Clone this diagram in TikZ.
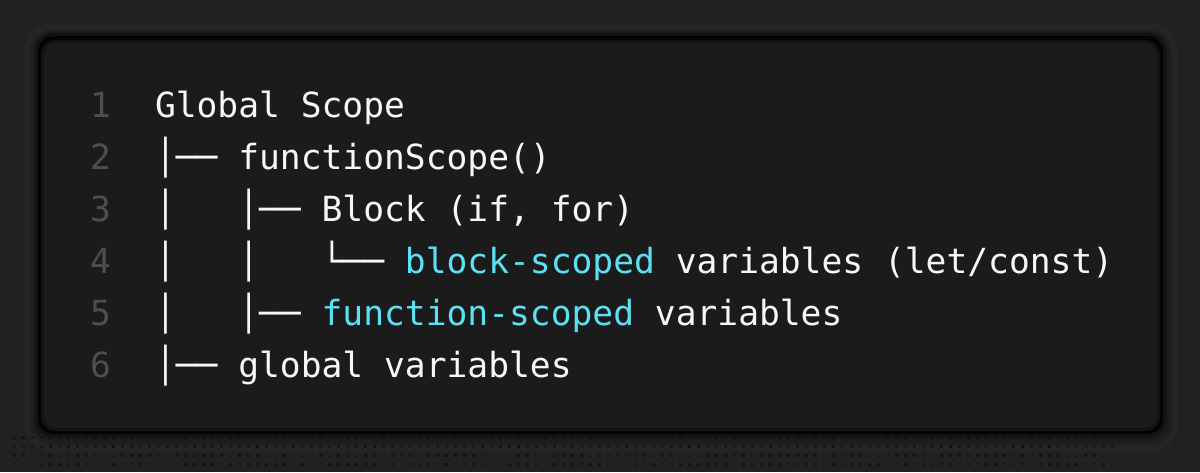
\documentclass[tikz,border=0pt]{standalone}
\usepackage{fontspec}
\newfontfamily\codefont{DejaVu Sans Mono}
\definecolor{bgc}{HTML}{212121}
\definecolor{haloc}{HTML}{252525}
\definecolor{borderc}{HTML}{121212}
\definecolor{panelc}{HTML}{1B1B1B}
\definecolor{txtc}{HTML}{F7F7F7}
\definecolor{numc}{HTML}{4E4E4E}
\definecolor{cyanc}{HTML}{5CE1F3}
\tikzset{
  code/.style={anchor=base west, inner sep=0pt, outer sep=0pt, text=txtc,
    font=\codefont\fontsize{34.6}{52}\selectfont},
  linenum/.style={code, text=numc},
}
\newcommand{\hl}[1]{\textcolor{cyanc}{#1}}
\begin{document}
\begin{tikzpicture}[x=1pt,y=-1pt]
\useasboundingbox (0,0) rectangle (1200,472);
\fill[bgc] (0,0) rectangle (1200,472);
% halo
\fill[haloc, rounded corners=28] (24,23) rectangle (1178,452);
% dotted texture below panel
\pgfmathsetseed{7}
\foreach \r in {0,1,2,3}{
  \foreach \c in {0,...,122}{
    \pgfmathsetmacro{\sh}{12+int(random(0,35))}
    \fill[black!\sh!bgc] (13+\c*9,436+\r*9) rectangle ++(3,3);
  }
}
% soft shadow
\fill[black, opacity=0.15, rounded corners=22] (30,30) rectangle (1172,445);
\fill[black, opacity=0.15, rounded corners=20] (33,32) rectangle (1169,441);
% border and panel
\fill[borderc, rounded corners=18] (35,33) rectangle (1166,437);
\fill[black!85!borderc, rounded corners=16] (38,36) rectangle (1163,434);
\fill[borderc, rounded corners=14] (41,40) rectangle (1160,431);
\fill[panelc, rounded corners=12] (44,43) rectangle (1157,428);
% line numbers
\foreach \i in {1,...,6}{
  \node[linenum] (n\i) at (90,{117+(\i-1)*52}) {\i};
}
% code lines
\node[code] (l1) at (155,117) {Global~Scope};
\node[code] (l2) at (155,169) {│──~functionScope()};
\node[code] (l3) at (155,221) {│~~~│──~Block~(if,~for)};
\node[code] (l4) at (155,273) {│~~~│~~~└──~\hl{block-scoped}~variables~(let/const)};
\node[code] (l5) at (155,325) {│~~~│──~\hl{function-scoped}~variables};
\node[code] (l6) at (155,377) {│──~global~variables};
\end{tikzpicture}
\end{document}
